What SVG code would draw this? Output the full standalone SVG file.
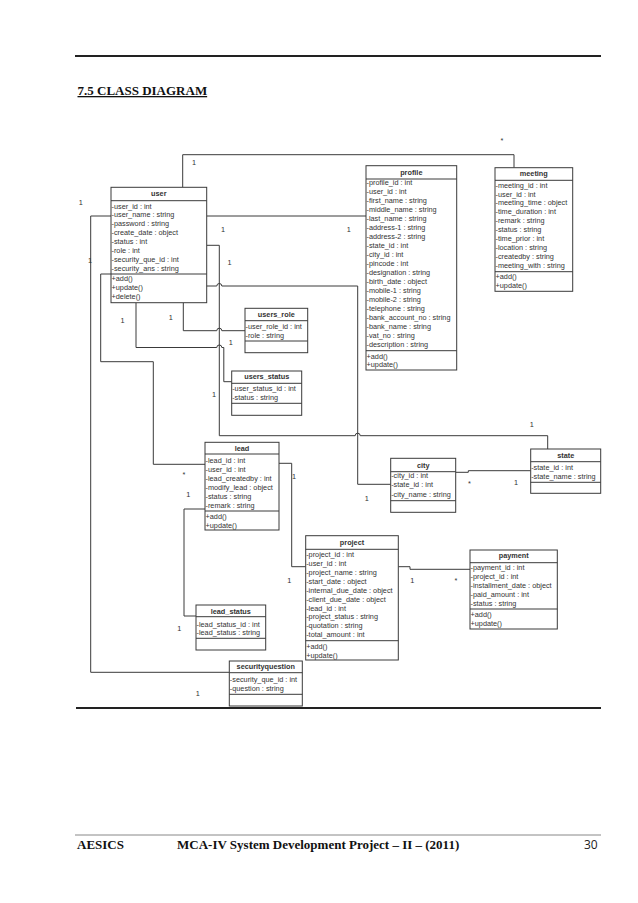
<svg xmlns="http://www.w3.org/2000/svg" width="638" height="903" viewBox="0 0 638 903">
<style>
.box{fill:#fff;stroke:#3a3a3a;stroke-width:1}
.sep{stroke:#3a3a3a;stroke-width:1}
.t{font-family:"Liberation Sans",Arial,sans-serif;font-size:7.3px;fill:#333}
.h{font-weight:bold;text-anchor:middle}
.c{fill:none;stroke:#3a3a3a;stroke-width:1}
.m{font-family:"Liberation Sans",Arial,sans-serif;font-size:7.3px;fill:#333;text-anchor:middle}
.hd{font-family:"Liberation Serif","Times New Roman",serif;font-weight:bold;font-size:13px;fill:#111}
</style>
<rect width="638" height="903" fill="#fff"/>
<!-- page header/footer -->
<line x1="75" y1="56" x2="601" y2="56" stroke="#222" stroke-width="2"/>
<text class="hd" x="77.5" y="95" text-decoration="underline">7.5 CLASS DIAGRAM</text>
<line x1="76" y1="708" x2="601" y2="708" stroke="#222" stroke-width="2"/>
<line x1="75" y1="835" x2="601" y2="835" stroke="#888" stroke-width="1"/>
<text class="hd" x="77" y="849">AESICS</text>
<text class="hd" x="177" y="849">MCA-IV System Development Project – II – (2011)</text>
<text x="584" y="849" font-family="'Open Sans','Liberation Sans',sans-serif" font-size="12" fill="#222">30</text>

<g id="connectors">
<path class="c" d="M206.7,216 H366"/>
<path class="c" d="M182.7,187.3 V154.7 H514 V167.7"/>
<path class="c" d="M206.7,245.3 H219.3 V435.7 H355.2 a2.5,2.5 0 0 1 5,0 H547.7 V449"/>
<path class="c" d="M198.3,274 V286 H216.8 a2.5,2.5 0 0 1 5,0 H357.7 V484.3 H390.7"/>
<path class="c" d="M183.3,302.7 V330.7 H216.8 a2.5,2.5 0 0 1 5,0 H245"/>
<path class="c" d="M136,302.7 V347.5 H216.8 a2.5,2.5 0 0 1 5,0 H223.8 V381.7 H231.7"/>
<path class="c" d="M111,274 H100.7 V361.7 H153.3 V464.3 H205"/>
<path class="c" d="M111,216 H90.7 V672.3 H229.3"/>
<path class="c" d="M205,509 H184 V616 H196"/>
<path class="c" d="M279,463.3 H291.7 V566.7 H305.7"/>
<path class="c" d="M398.3,566.7 H410 V569.3 H470"/>
<path class="c" d="M455.7,472.3 H468.3 V470.7 H530.7"/>
</g>

<g id="labels">
<text class="m" x="194" y="164.5">1</text>
<text class="m" x="502" y="143">*</text>
<text class="m" x="80.7" y="204.5">1</text>
<text class="m" x="223" y="231.5">1</text>
<text class="m" x="348.7" y="231.5">1</text>
<text class="m" x="229.5" y="265">1</text>
<text class="m" x="90" y="262.5">1</text>
<text class="m" x="186" y="300.5">1</text>
<text class="m" x="122.5" y="322.5">1</text>
<text class="m" x="170.7" y="319.8">1</text>
<text class="m" x="230.7" y="344.8">1</text>
<text class="m" x="214" y="396.8">1</text>
<text class="m" x="531.7" y="426.5">1</text>
<text class="m" x="184" y="477">*</text>
<text class="m" x="188.3" y="496.8">1</text>
<text class="m" x="294" y="479.2">1</text>
<text class="m" x="366.7" y="500.8">1</text>
<text class="m" x="469.3" y="485.5">*</text>
<text class="m" x="516" y="485.2">1</text>
<text class="m" x="289.3" y="582.5">1</text>
<text class="m" x="412.3" y="582.5">1</text>
<text class="m" x="456" y="583">*</text>
<text class="m" x="179.3" y="630.8">1</text>
<text class="m" x="197.7" y="695.8">1</text>
</g>

<g id="user">
<rect class="box" x="111" y="187.3" width="95.7" height="115.4"/>
<line class="sep" x1="111" y1="200.7" x2="206.7" y2="200.7"/>
<line class="sep" x1="111" y1="274" x2="206.7" y2="274"/>
<text class="t h" x="158.8" y="196">user</text>
<text class="t" x="111.5" y="208.5">-user_id : int</text>
<text class="t" x="111.5" y="217.4">-user_name : string</text>
<text class="t" x="111.5" y="226.3">-password : string</text>
<text class="t" x="111.5" y="235.2">-create_date : object</text>
<text class="t" x="111.5" y="244.1">-status : int</text>
<text class="t" x="111.5" y="253">-role : int</text>
<text class="t" x="111.5" y="261.9">-security_que_id : int</text>
<text class="t" x="111.5" y="270.8">-security_ans : string</text>
<text class="t" x="111.5" y="281.2">+add()</text>
<text class="t" x="111.5" y="289.8">+update()</text>
<text class="t" x="111.5" y="298.5">+delete()</text>
</g>

<g id="profile">
<rect class="box" x="366" y="165.7" width="90.7" height="204.3"/>
<line class="sep" x1="366" y1="179" x2="456.7" y2="179"/>
<line class="sep" x1="366" y1="350.7" x2="456.7" y2="350.7"/>
<text class="t h" x="411.3" y="174.8">profile</text>
<text class="t" x="366.5" y="185.2">-profile_id : int</text>
<text class="t" x="366.5" y="194.2">-user_id : int</text>
<text class="t" x="366.5" y="203.1">-first_name : string</text>
<text class="t" x="366.5" y="212.1">-middle_name : string</text>
<text class="t" x="366.5" y="221">-last_name : string</text>
<text class="t" x="366.5" y="230">-address-1 : string</text>
<text class="t" x="366.5" y="239">-address-2 : string</text>
<text class="t" x="366.5" y="247.9">-state_id : int</text>
<text class="t" x="366.5" y="256.9">-city_id : int</text>
<text class="t" x="366.5" y="265.8">-pincode : int</text>
<text class="t" x="366.5" y="274.8">-designation : string</text>
<text class="t" x="366.5" y="283.8">-birth_date : object</text>
<text class="t" x="366.5" y="292.7">-mobile-1 : string</text>
<text class="t" x="366.5" y="301.7">-mobile-2 : string</text>
<text class="t" x="366.5" y="310.6">-telephone : string</text>
<text class="t" x="366.5" y="319.6">-bank_account_no : string</text>
<text class="t" x="366.5" y="328.6">-bank_name : string</text>
<text class="t" x="366.5" y="337.5">-vat_no : string</text>
<text class="t" x="366.5" y="346.5">-description : string</text>
<text class="t" x="366.5" y="358.5">+add()</text>
<text class="t" x="366.5" y="367.2">+update()</text>
</g>

<g id="meeting">
<rect class="box" x="495" y="167.7" width="77.7" height="123.6"/>
<line class="sep" x1="495" y1="180.3" x2="572.7" y2="180.3"/>
<line class="sep" x1="495" y1="271.7" x2="572.7" y2="271.7"/>
<text class="t h" x="533.8" y="175.8">meeting</text>
<text class="t" x="495.5" y="187.5">-meeting_id : int</text>
<text class="t" x="495.5" y="196.5">-user_id : int</text>
<text class="t" x="495.5" y="205.4">-meeting_time : object</text>
<text class="t" x="495.5" y="214.4">-time_duration : int</text>
<text class="t" x="495.5" y="223.3">-remark : string</text>
<text class="t" x="495.5" y="232.3">-status : string</text>
<text class="t" x="495.5" y="241.2">-time_prior : int</text>
<text class="t" x="495.5" y="250.2">-location : string</text>
<text class="t" x="495.5" y="259.1">-createdby : string</text>
<text class="t" x="495.5" y="268.1">-meeting_with : string</text>
<text class="t" x="495.5" y="278.5">+add()</text>
<text class="t" x="495.5" y="287.5">+update()</text>
</g>

<g id="users_role">
<rect class="box" x="245" y="308.3" width="62.7" height="44.4"/>
<line class="sep" x1="245" y1="320.7" x2="307.7" y2="320.7"/>
<line class="sep" x1="245" y1="341" x2="307.7" y2="341"/>
<text class="t h" x="276.3" y="316.8">users_role</text>
<text class="t" x="245.5" y="328.5">-user_role_id : int</text>
<text class="t" x="245.5" y="337.8">-role : string</text>
</g>

<g id="users_status">
<rect class="box" x="231.7" y="371" width="70" height="44.3"/>
<line class="sep" x1="231.7" y1="383.3" x2="301.7" y2="383.3"/>
<line class="sep" x1="231.7" y1="403.3" x2="301.7" y2="403.3"/>
<text class="t h" x="266.7" y="379.2">users_status</text>
<text class="t" x="232.2" y="391.2">-user_status_id : int</text>
<text class="t" x="232.2" y="399.8">-status : string</text>
</g>

<g id="lead">
<rect class="box" x="205" y="442.3" width="74" height="87.7"/>
<line class="sep" x1="205" y1="454" x2="279" y2="454"/>
<line class="sep" x1="205" y1="511" x2="279" y2="511"/>
<text class="t h" x="242" y="450.8">lead</text>
<text class="t" x="205.5" y="462.5">-lead_id : int</text>
<text class="t" x="205.5" y="471.5">-user_id : int</text>
<text class="t" x="205.5" y="480.5">-lead_createdby : int</text>
<text class="t" x="205.5" y="489.5">-modify_lead : object</text>
<text class="t" x="205.5" y="498.5">-status : string</text>
<text class="t" x="205.5" y="507.5">-remark : string</text>
<text class="t" x="205.5" y="519.2">+add()</text>
<text class="t" x="205.5" y="528.2">+update()</text>
</g>

<g id="lead_status">
<rect class="box" x="196" y="605" width="69.7" height="45"/>
<line class="sep" x1="196" y1="616.7" x2="265.7" y2="616.7"/>
<line class="sep" x1="196" y1="638.3" x2="265.7" y2="638.3"/>
<text class="t h" x="230.8" y="613.5">lead_status</text>
<text class="t" x="196.5" y="626.5">-lead_status_id : int</text>
<text class="t" x="196.5" y="635.2">-lead_status : string</text>
</g>

<g id="securityquestion">
<rect class="box" x="229.3" y="661" width="73" height="45"/>
<line class="sep" x1="229.3" y1="672.7" x2="302.3" y2="672.7"/>
<line class="sep" x1="229.3" y1="694.3" x2="302.3" y2="694.3"/>
<text class="t h" x="265.8" y="669.2">securityquestion</text>
<text class="t" x="229.8" y="681.8">-security_que_id : int</text>
<text class="t" x="229.8" y="690.8">-question : string</text>
</g>

<g id="project">
<rect class="box" x="305.7" y="535.7" width="92.6" height="124.3"/>
<line class="sep" x1="305.7" y1="549.3" x2="398.3" y2="549.3"/>
<line class="sep" x1="305.7" y1="640.7" x2="398.3" y2="640.7"/>
<text class="t h" x="352" y="544.8">project</text>
<text class="t" x="306.2" y="556.5">-project_id : int</text>
<text class="t" x="306.2" y="565.5">-user_id : int</text>
<text class="t" x="306.2" y="574.5">-project_name : string</text>
<text class="t" x="306.2" y="583.5">-start_date : object</text>
<text class="t" x="306.2" y="592.5">-internal_due_date : object</text>
<text class="t" x="306.2" y="601.5">-client_due_date : object</text>
<text class="t" x="306.2" y="610.5">-lead_id : int</text>
<text class="t" x="306.2" y="619.2">-project_status : string</text>
<text class="t" x="306.2" y="628.2">-quotation : string</text>
<text class="t" x="306.2" y="637.2">-total_amount : int</text>
<text class="t" x="306.2" y="648.5">+add()</text>
<text class="t" x="306.2" y="657.5">+update()</text>
</g>

<g id="payment">
<rect class="box" x="470" y="550" width="87.3" height="79"/>
<line class="sep" x1="470" y1="562.7" x2="557.3" y2="562.7"/>
<line class="sep" x1="470" y1="609" x2="557.3" y2="609"/>
<text class="t h" x="513.7" y="558.2">payment</text>
<text class="t" x="470.5" y="570.2">-payment_id : int</text>
<text class="t" x="470.5" y="579.2">-project_id : int</text>
<text class="t" x="470.5" y="588.2">-installment_date : object</text>
<text class="t" x="470.5" y="596.8">-paid_amount : int</text>
<text class="t" x="470.5" y="605.8">-status : string</text>
<text class="t" x="470.5" y="616.8">+add()</text>
<text class="t" x="470.5" y="625.8">+update()</text>
</g>

<g id="city">
<rect class="box" x="390.7" y="458.3" width="65" height="54"/>
<line class="sep" x1="390.7" y1="471.7" x2="455.7" y2="471.7"/>
<line class="sep" x1="390.7" y1="500.7" x2="455.7" y2="500.7"/>
<text class="t h" x="423.2" y="467.5">city</text>
<text class="t" x="391.2" y="478.2">-city_id : int</text>
<text class="t" x="391.2" y="486.8">-state_id : int</text>
<text class="t" x="391.2" y="496.5">-city_name : string</text>
</g>

<g id="state">
<rect class="box" x="530.7" y="449" width="70" height="44.3"/>
<line class="sep" x1="530.7" y1="461.7" x2="600.7" y2="461.7"/>
<line class="sep" x1="530.7" y1="482.3" x2="600.7" y2="482.3"/>
<text class="t h" x="565.7" y="457.5">state</text>
<text class="t" x="531.2" y="470.2">-state_id : int</text>
<text class="t" x="531.2" y="479.2">-state_name : string</text>
</g>
</svg>
